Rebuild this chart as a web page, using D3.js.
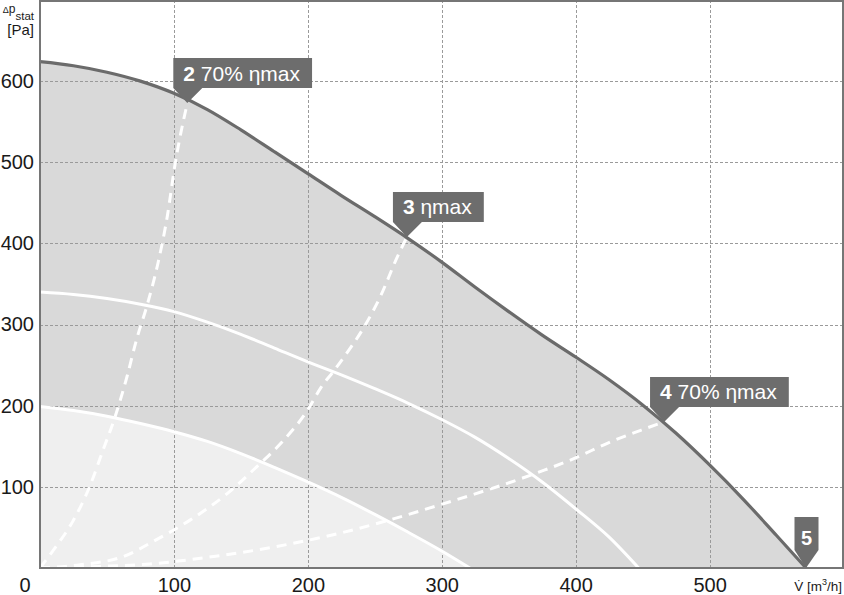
<!DOCTYPE html>
<html>
<head>
<meta charset="utf-8">
<script src="https://cdn.jsdelivr.net/npm/d3@7"></script>
<style>
html,body{margin:0;padding:0;background:#fff;}
svg{display:block;font-family:"Liberation Sans",Arial,Helvetica,sans-serif;}
</style>
</head>
<body>
<svg id="chart" width="844" height="595"></svg>
<script>
// ---- data ----
const xTicks = [100, 200, 300, 400, 500];
const yTicks = [100, 200, 300, 400, 500, 600];
const xZeroLabel = "0";

const maxCurveX = [0, 25, 50, 75, 100, 125, 150, 175, 200, 225, 250, 275, 300, 325, 350, 375, 400, 425, 450, 475, 500, 525, 550, 572];
const maxCurveY = [624, 619, 611, 600, 585, 565, 540, 513, 486, 459, 433, 406, 377, 346, 316, 287, 260, 232, 201, 166, 127, 85, 40, 0];

const midCurveX = [0, 25, 50, 75, 100, 125, 150, 175, 200, 225, 250, 275, 300, 325, 350, 375, 400, 425, 447];
const midCurveY = [340, 337, 332, 325, 316, 303, 288, 271, 254, 238, 221, 203, 183, 161, 135, 106, 73, 38, 0];

const lowCurveX = [0, 25, 50, 75, 100, 125, 150, 175, 200, 225, 250, 275, 300, 321];
const lowCurveY = [199, 194, 187, 178, 168, 156, 141, 124, 106, 87, 66, 44, 21, 0];

const sys2X = [0, 10, 25, 37, 47, 56, 65, 72, 80, 88, 95, 101, 110];
const sys2Y = [0, 22, 59, 100, 145, 186, 236, 281, 324, 375, 433, 499, 573];

const sys3X = [0, 30, 62, 87, 112, 140, 162, 180, 200, 210, 219, 227, 242, 254, 267, 274];
const sys3Y = [0, 4, 14, 35, 59, 92, 125, 154, 195, 223, 242, 260, 297, 334, 384, 408];

const sys4X = [0, 45, 82, 120, 175, 224, 299, 374, 399, 424, 449, 466];
const sys4Y = [0, 2, 5, 12, 26, 43, 78, 119, 135, 154, 170, 180];

const labelNums = ["2", "3", "4"];
const labelTexts = ["70% ηmax", "ηmax", "70% ηmax"];
const labelX = [110, 274, 466];
const labelY = [573, 408, 180];
const endLabelNum = "5";
const endLabelX = 572;
const endLabelY = 0;

// ---- chart ----
const svg = d3.select("#chart");
const x = d3.scaleLinear().domain([0, 600]).range([40, 843.5]);
const y = d3.scaleLinear().domain([0, 700]).range([568, 0]);

const zip = (xs, ys) => xs.map((v, i) => [v, ys[i]]);

const area = d3.area().x(d => x(d[0])).y0(y(0)).y1(d => y(d[1])).curve(d3.curveMonotoneX);
const line = d3.line().x(d => x(d[0])).y(d => y(d[1])).curve(d3.curveMonotoneX);

// fills
svg.append("path").datum(zip(maxCurveX, maxCurveY)).attr("d", area).attr("fill", "#d9d9d9");
svg.append("path").datum(zip(lowCurveX, lowCurveY)).attr("d", area).attr("fill", "#efefef");

// grid
const grid = svg.append("g").attr("stroke", "#9a9a9a").attr("stroke-width", 1).attr("stroke-dasharray", "3,2");
grid.selectAll("line.v").data(xTicks).join("line")
  .attr("x1", d => Math.round(x(d)) + 0.5).attr("x2", d => Math.round(x(d)) + 0.5)
  .attr("y1", y(700)).attr("y2", y(0));
grid.selectAll("line.h").data(yTicks).join("line")
  .attr("y1", d => Math.round(y(d)) + 0.5).attr("y2", d => Math.round(y(d)) + 0.5)
  .attr("x1", x(0)).attr("x2", x(600));

// white fan curves
svg.append("path").datum(zip(midCurveX, midCurveY)).attr("d", line)
  .attr("fill", "none").attr("stroke", "#fff").attr("stroke-width", 3);
svg.append("path").datum(zip(lowCurveX, lowCurveY)).attr("d", line)
  .attr("fill", "none").attr("stroke", "#fff").attr("stroke-width", 3);

// dashed system curves
[[sys2X, sys2Y], [sys3X, sys3Y], [sys4X, sys4Y]].forEach(([xs, ys]) => {
  svg.append("path").datum(zip(xs, ys)).attr("d", line)
    .attr("fill", "none").attr("stroke", "#fff").attr("stroke-width", 3)
    .attr("stroke-dasharray", "10,7");
});

// max curve
svg.append("path").datum(zip(maxCurveX, maxCurveY)).attr("d", line)
  .attr("fill", "none").attr("stroke", "#6b6b6b").attr("stroke-width", 3.2);

// frame
svg.append("rect").attr("x", x(0)).attr("y", 1).attr("width", x(600) - x(0) - 0.5).attr("height", y(0) - 1)
  .attr("fill", "none").attr("stroke", "#767676").attr("stroke-width", 2);

// axes
const yAxis = svg.append("g").attr("transform", `translate(${x(0)},0)`)
  .call(d3.axisLeft(y).tickValues(yTicks).tickSize(0).tickPadding(6));
yAxis.select(".domain").remove();
yAxis.selectAll("text").attr("font-size", 20).attr("fill", "#1a1a1a")
  .attr("font-family", "Liberation Sans, Arial, sans-serif");

const xAxis = svg.append("g").attr("transform", `translate(0,${y(0)})`)
  .call(d3.axisBottom(x).tickValues(xTicks).tickSize(0).tickPadding(10));
xAxis.select(".domain").remove();
xAxis.selectAll("text").attr("font-size", 20).attr("fill", "#1a1a1a")
  .attr("font-family", "Liberation Sans, Arial, sans-serif");

svg.append("text").attr("x", 25).attr("y", 591.5).attr("text-anchor", "middle")
  .attr("font-size", 20).attr("fill", "#1a1a1a").text(xZeroLabel);

// axis titles
const yt = svg.append("text").attr("x", 34).attr("y", 13).attr("text-anchor", "end").attr("fill", "#1a1a1a");
yt.append("tspan").attr("font-size", 9).text("Δ");
yt.append("tspan").attr("font-size", 12).text("p");
yt.append("tspan").attr("font-size", 11.5).attr("dy", 7).text("stat");
svg.append("text").attr("x", 34).attr("y", 34.5).attr("text-anchor", "end")
  .attr("font-size", 15).attr("fill", "#1a1a1a").text("[Pa]");

const xt = svg.append("text").attr("x", 842).attr("y", 591).attr("text-anchor", "end")
  .attr("font-size", 13.5).attr("fill", "#1a1a1a");
xt.append("tspan").text("V\u0307 [m");
xt.append("tspan").attr("font-size", 9).attr("dy", -6).text("3");
xt.append("tspan").attr("dy", 6).text("/h]");

// callouts
labelNums.forEach((num, i) => {
  const tx = x(labelX[i]), ty = y(labelY[i]);
  const L = tx - 14, B = ty - 15, T = B - 30;
  const g = svg.append("g");
  const path = g.append("path").attr("fill", "#6d6d6d");
  const t = g.append("text").attr("x", L + 10).attr("y", B - 7.5).attr("font-size", 21).attr("fill", "#fff");
  t.append("tspan").attr("font-weight", "bold").text(num);
  t.append("tspan").text("\u00a0" + labelTexts[i]);
  const w = t.node().getComputedTextLength() + 22;
  const R = L + w;
  path.attr("d", `M${L},${T}H${R}V${B}H${L + 29}L${tx},${ty}L${L},${B}Z`);
});

// end label (5)
{
  const tx = x(endLabelX), ty = y(endLabelY);
  const L = tx - 11.5, R = tx + 12.5, B = ty - 18, T = B - 33;
  const g = svg.append("g");
  g.append("path").attr("fill", "#6d6d6d")
    .attr("d", `M${L},${T}H${R}V${B}L${tx},${ty}L${L},${B}Z`);
  g.append("text").attr("x", (L + R) / 2).attr("y", B - 5).attr("text-anchor", "middle")
    .attr("font-size", 20).attr("font-weight", "bold").attr("fill", "#fff").text(endLabelNum);
}
</script>
</body>
</html>
